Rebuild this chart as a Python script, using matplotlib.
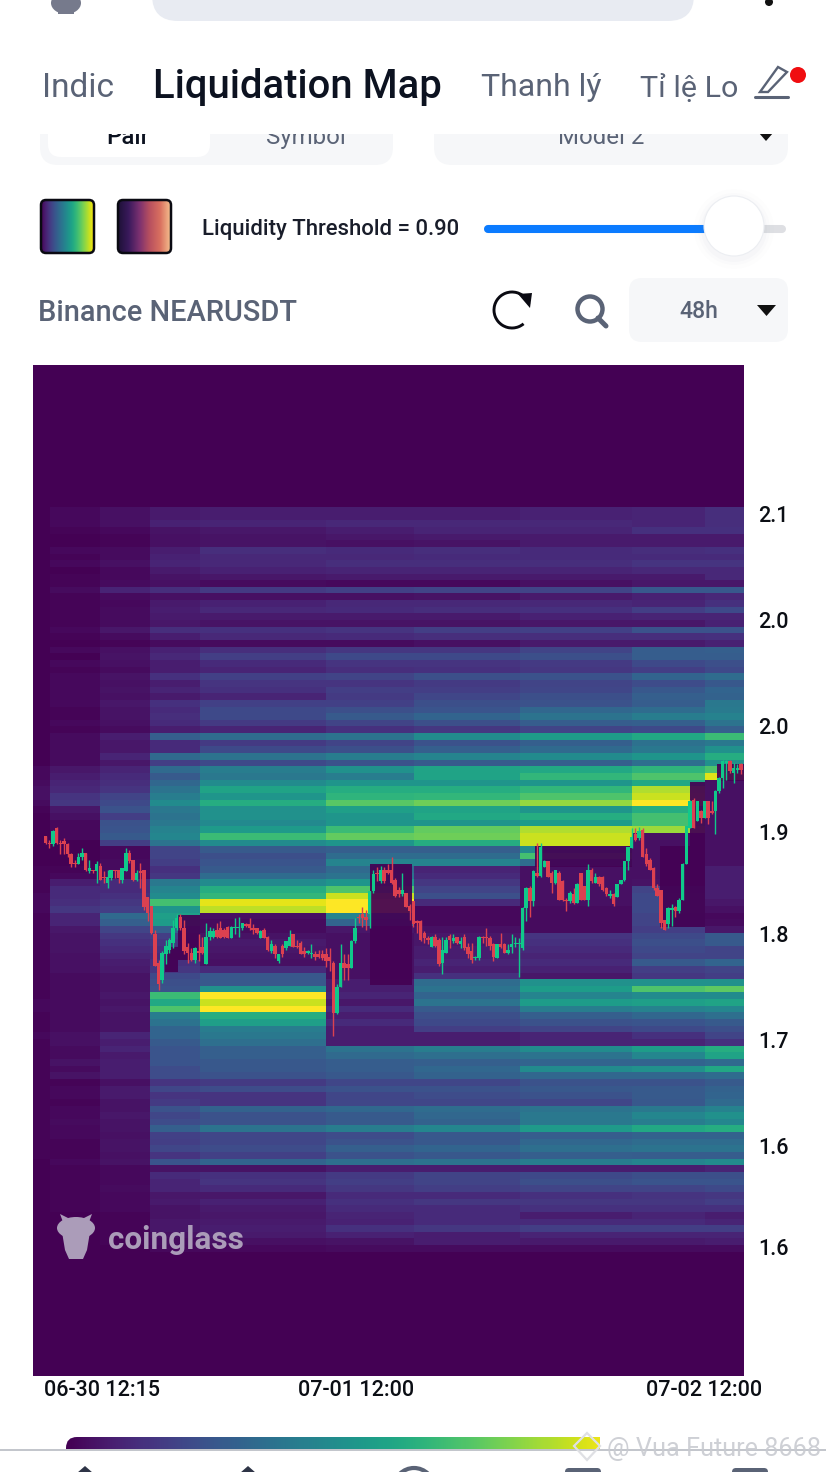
import numpy as np
import matplotlib
matplotlib.use("Agg")
import matplotlib.pyplot as plt
from matplotlib.patches import FancyBboxPatch, Circle, Polygon, Rectangle, Arc, Ellipse
from matplotlib.colors import Normalize, LinearSegmentedColormap

plt.rcParams['font.family'] = ['Roboto', 'DejaVu Sans']

# ---------------------- DATA ----------------------
y_tick_prices = [2.1001, 2.0259, 1.9517, 1.8775, 1.8061, 1.7319, 1.6577, 1.5870]
y_tick_labels = ['2.1', '2.0', '2.0', '1.9', '1.8', '1.7', '1.6', '1.6']
x_tick_candles = [15.5, 85.2, 180.9]
x_tick_labels = ['06-30 12:15', '07-01 12:00', '07-02 12:00']

# candle-number edges of the heat-map time columns
time_edges = [-3.49, 1.18, 14.9, 28.65, 42.4, 77.0, 101.2, 130.3, 161.1, 181.1, 191.84]
price_top = 2.105
price_bin = 0.004655

# liquidity (0-100) per price row (top to bottom) and time column
liquidity = [
 [0,2,4,7,8,8,8,9,10,13],[0,2,4,7,8,8,8,9,10,13],[0,2,4,9,10,11,11,11,10,13],[0,1,2,5,6,8,10,10,14,14],
 [0,0,1,4,5,6,7,7,7,7],[0,0,1,4,5,4,5,7,7,7],[0,2,3,8,13,12,13,12,13,14],[0,1,3,9,11,11,12,12,12,12],
 [0,2,4,10,11,13,13,13,15,15],[0,0,2,7,9,10,10,10,11,11],[0,1,2,5,6,7,7,7,7,11],[0,1,3,4,3,2,2,4,6,6],
 [0,3,10,13,17,19,20,20,27,27],[0,1,3,4,4,4,5,7,9,11],[0,1,2,7,9,11,11,11,10,14],[0,1,3,8,11,12,13,14,18,22],
 [0,1,3,7,7,7,7,9,10,10],[0,1,3,6,5,5,5,6,6,9],[0,2,6,13,14,15,18,19,25,25],[0,1,3,8,11,12,13,13,13,14],
 [0,0,1,3,3,3,4,7,7,9],[0,2,4,9,13,16,16,20,29,30],[0,0,5,11,18,22,22,24,29,29],[0,2,4,8,12,15,15,17,22,24],
 [0,1,3,8,10,13,14,16,18,22],[0,2,5,14,19,20,24,25,32,35],[0,2,4,8,15,15,17,20,23,27],[0,2,5,10,14,18,18,21,27,32],
 [0,2,4,7,10,17,21,24,30,31],[0,2,6,14,19,19,24,25,29,40],[0,1,5,12,22,24,26,33,35,41],[0,1,5,13,22,28,32,38,42,44],
 [0,2,4,12,17,20,24,29,30,38],[0,1,3,8,10,14,16,20,22,30],[0,3,8,30,35,38,48,55,60,68],[0,3,6,12,17,20,25,30,37,40],
 [0,3,6,12,22,24,30,34,40,50],[0,3,10,34,38,42,45,48,52,62],[0,3,6,18,22,25,28,30,36,50],
 [2,6,10,34,42,50,58,60,65,72],[2,8,12,28,40,42,58,66,72,95],[3,10,13,33,48,52,52,52,60,4],[4,11,15,38,58,62,62,66,88,4],
 [4,15,20,42,52,65,66,72,92,4],[3,16,22,48,62,74,78,84,100,4],[1,6,25,40,50,56,58,52,62,4],[0,4,18,38,50,52,60,62,70,4],
 [0,2,25,40,47,52,52,55,70,4],[0,2,26,44,54,68,76,88,85,4],[0,2,28,46,68,76,78,92,4,4],[0,0,18,38,48,52,62,92,4,4],
 [0,0,2,20,28,30,30,48,4,4],[0,0,2,20,24,35,35,70,4,4],[0,0,3,18,26,45,45,35,4,4],[1,1,3,14,28,34,10,4,4,8],
 [1,2,3,16,35,38,12,4,4,8],[1,8,12,40,48,52,16,4,5,8],[1,12,12,45,62,72,20,4,20,8],[2,12,14,48,66,92,24,4,22,8],
 [2,13,16,70,96,100,12,4,22,6],[2,16,18,52,90,100,2,3,22,4],[1,10,34,56,4,45,2,3,20,2],[1,10,30,55,3,32,2,3,20,3],
 [1,6,20,30,3,6,4,3,18,6],[1,5,16,18,5,4,6,15,22,28],[1,5,14,16,7,4,6,14,24,28],[1,5,12,14,6,4,8,12,22,20],
 [1,4,10,12,5,4,8,10,20,20],[1,4,8,14,4,4,10,12,28,32],[1,4,7,16,12,4,8,9,18,20],[1,3,5,22,27,4,14,6,16,18],
 [1,3,5,24,27,8,35,50,50,50],[1,3,5,25,50,8,38,55,72,75],[1,3,6,68,100,10,32,45,48,48],[2,3,5,60,92,6,38,55,56,58],
 [2,3,6,72,100,12,28,42,44,46],[1,3,5,42,62,8,24,30,33,36],[1,3,5,38,56,12,22,25,26,28],[1,3,5,32,42,8,18,20,22,24],
 [2,4,10,32,40,8,8,10,14,20],[1,4,8,28,36,8,8,10,10,14],[1,3,10,26,30,38,42,48,55,62],[1,3,7,26,30,34,36,38,46,58],
 [1,5,8,26,27,29,30,32,32,34],[1,3,8,23,27,29,33,48,50,60],[1,5,8,23,25,27,31,33,33,35],[1,1,4,15,17,21,21,25,25,28],
 [1,2,7,21,23,25,25,27,28,31],[1,2,7,15,15,21,23,25,28,32],[1,1,5,17,15,21,21,21,27,34],[1,2,5,25,31,33,35,38,40,44],
 [1,2,6,21,25,28,33,40,46,50],[1,3,5,23,25,28,31,40,42,46],[1,2,5,30,38,42,46,54,60,62],[1,2,4,19,21,23,27,29,31,31],
 [1,1,5,18,21,25,27,33,35,35],[1,1,5,21,23,30,32,36,38,38],[1,1,4,15,19,25,27,30,29,29],[0,2,5,26,32,36,38,42,45,48],
 [0,1,2,5,5,8,8,8,8,10],[0,1,2,12,14,17,20,22,24,24],[0,1,2,10,15,18,20,24,26,26],[0,1,3,10,12,16,18,20,20,22],
 [0,1,2,6,6,12,12,14,15,16],[0,1,2,7,9,14,16,16,16,18],[0,1,2,5,7,12,12,14,14,14],[0,0,1,5,6,10,12,8,10,8],
 [0,0,1,6,7,9,12,12,12,10],[0,0,1,6,8,14,16,18,18,18],[0,0,1,4,7,9,8,10,10,10],[0,0,1,3,4,5,8,7,7,8],
 [0,0,0,2,2,3,3,3,3,3],
]

# zones where liquidity was swept by price
cleared_start = [36.3, 32.8, 89.1, 134.4, 168.8, 177.0, 184.4]
cleared_end = [42.4, 36.3, 100.6, 161.1, 181.1, 181.1, 191.84]
cleared_top = [1.8194, 1.7970, 1.8551, 1.8677, 1.8677, 1.9125, 1.9251]
cleared_bottom = [1.7879, 1.7795, 1.7704, 1.8530, 1.8110, 1.8677, 1.9135]

# 15-minute candles
candle_ohlc = [
 (1.875,1.875,1.869,1.870),(1.870,1.872,1.866,1.869),(1.869,1.879,1.868,1.878),(1.880,1.881,1.869,1.870),
 (1.870,1.872,1.862,1.869),(1.871,1.873,1.862,1.869),(1.869,1.870,1.860,1.862),(1.862,1.863,1.853,1.855),
 (1.856,1.858,1.853,1.855),(1.855,1.863,1.855,1.860),(1.860,1.866,1.858,1.863),(1.863,1.863,1.850,1.851),
 (1.850,1.858,1.849,1.852),(1.851,1.851,1.849,1.850),(1.850,1.857,1.842,1.855),(1.854,1.856,1.844,1.844),
 (1.846,1.850,1.842,1.845),(1.842,1.851,1.838,1.846),(1.845,1.851,1.844,1.851),(1.851,1.851,1.845,1.850),
 (1.851,1.851,1.842,1.845),(1.844,1.852,1.842,1.852),(1.850,1.866,1.850,1.863),(1.863,1.865,1.856,1.857),
 (1.858,1.858,1.843,1.844),(1.844,1.851,1.843,1.849),(1.850,1.856,1.838,1.849),(1.851,1.851,1.823,1.825),
 (1.832,1.832,1.815,1.821),(1.826,1.826,1.806,1.807),(1.806,1.809,1.784,1.784),(1.786,1.788,1.767,1.771),
 (1.774,1.794,1.772,1.793),(1.792,1.802,1.785,1.798),(1.795,1.803,1.793,1.802),(1.800,1.816,1.796,1.810),
 (1.810,1.820,1.809,1.817),(1.818,1.820,1.809,1.810),(1.810,1.816,1.792,1.794),(1.797,1.800,1.786,1.793),
 (1.793,1.796,1.787,1.788),(1.788,1.797,1.786,1.796),(1.794,1.806,1.787,1.793),(1.797,1.804,1.792,1.793),
 (1.785,1.814,1.785,1.804),(1.804,1.811,1.802,1.808),(1.804,1.810,1.803,1.808),(1.809,1.814,1.803,1.804),
 (1.810,1.815,1.803,1.803),(1.809,1.810,1.803,1.804),(1.811,1.812,1.803,1.803),(1.803,1.812,1.803,1.811),
 (1.810,1.817,1.806,1.810),(1.810,1.818,1.804,1.810),(1.810,1.814,1.809,1.814),(1.813,1.814,1.811,1.812),
 (1.813,1.817,1.809,1.810),(1.810,1.813,1.806,1.809),(1.810,1.810,1.806,1.807),(1.803,1.809,1.803,1.808),
 (1.809,1.810,1.803,1.803),(1.804,1.805,1.794,1.795),(1.794,1.802,1.793,1.799),(1.798,1.799,1.789,1.792),
 (1.787,1.792,1.786,1.792),(1.798,1.799,1.790,1.792),(1.796,1.801,1.795,1.801),(1.798,1.809,1.798,1.804),
 (1.806,1.806,1.797,1.797),(1.798,1.802,1.796,1.797),(1.800,1.801,1.792,1.792),(1.794,1.797,1.790,1.792),
 (1.793,1.795,1.792,1.793),(1.792,1.799,1.789,1.793),(1.792,1.794,1.788,1.790),(1.792,1.795,1.789,1.790),
 (1.792,1.795,1.788,1.789),(1.792,1.796,1.783,1.787),(1.790,1.796,1.780,1.787),(1.786,1.787,1.735,1.751),
 (1.751,1.771,1.750,1.769),(1.769,1.799,1.769,1.786),(1.786,1.792,1.774,1.782),(1.785,1.792,1.774,1.782),
 (1.782,1.802,1.782,1.801),(1.801,1.817,1.800,1.810),(1.818,1.820,1.814,1.817),(1.820,1.825,1.811,1.817),
 (1.818,1.823,1.809,1.816),(1.820,1.836,1.810,1.836),(1.836,1.851,1.835,1.848),(1.849,1.853,1.843,1.848),
 (1.843,1.854,1.842,1.851),(1.851,1.853,1.842,1.843),(1.851,1.855,1.848,1.849),(1.851,1.860,1.841,1.842),
 (1.844,1.845,1.832,1.833),(1.837,1.839,1.832,1.834),(1.834,1.849,1.833,1.837),(1.835,1.835,1.825,1.825),
 (1.826,1.827,1.816,1.822),(1.829,1.829,1.811,1.813),(1.815,1.816,1.807,1.814),(1.815,1.816,1.801,1.802),
 (1.807,1.808,1.800,1.803),(1.803,1.805,1.799,1.802),(1.797,1.805,1.797,1.804),(1.804,1.806,1.797,1.798),
 (1.802,1.803,1.784,1.785),(1.786,1.804,1.778,1.795),(1.793,1.804,1.793,1.802),(1.805,1.806,1.796,1.802),
 (1.801,1.806,1.800,1.803),(1.804,1.804,1.799,1.800),(1.799,1.804,1.796,1.801),(1.804,1.806,1.795,1.796),
 (1.797,1.800,1.789,1.792),(1.794,1.800,1.786,1.788),(1.789,1.791,1.788,1.790),(1.789,1.805,1.788,1.804),
 (1.804,1.805,1.800,1.803),(1.804,1.810,1.798,1.803),(1.803,1.805,1.795,1.798),(1.799,1.800,1.787,1.790),
 (1.789,1.799,1.789,1.799),(1.799,1.807,1.796,1.797),(1.799,1.800,1.793,1.793),(1.793,1.799,1.792,1.795),
 (1.797,1.806,1.793,1.799),(1.799,1.804,1.797,1.800),(1.799,1.803,1.776,1.800),(1.796,1.825,1.795,1.824),
 (1.824,1.839,1.815,1.838),(1.838,1.840,1.818,1.829),(1.829,1.851,1.826,1.850),(1.849,1.870,1.846,1.847),
 (1.847,1.870,1.846,1.867),(1.853,1.858,1.853,1.857),(1.857,1.857,1.846,1.846),(1.849,1.850,1.835,1.842),
 (1.842,1.851,1.841,1.851),(1.849,1.850,1.830,1.830),(1.843,1.844,1.829,1.830),(1.830,1.831,1.822,1.829),
 (1.829,1.836,1.828,1.835),(1.834,1.838,1.827,1.828),(1.828,1.842,1.828,1.841),(1.849,1.849,1.830,1.830),
 (1.840,1.840,1.830,1.830),(1.830,1.855,1.826,1.851),(1.851,1.852,1.842,1.843),(1.842,1.849,1.842,1.846),
 (1.846,1.847,1.840,1.841),(1.846,1.847,1.836,1.837),(1.838,1.839,1.833,1.834),(1.833,1.837,1.831,1.834),
 (1.834,1.835,1.826,1.827),(1.832,1.841,1.832,1.841),(1.841,1.844,1.841,1.844),(1.844,1.857,1.843,1.857),
 (1.857,1.867,1.851,1.867),(1.866,1.880,1.866,1.874),(1.876,1.880,1.871,1.872),(1.873,1.881,1.872,1.878),
 (1.879,1.880,1.860,1.860),(1.862,1.866,1.854,1.855),(1.858,1.859,1.851,1.851),(1.852,1.853,1.837,1.838),
 (1.838,1.841,1.833,1.833),(1.837,1.837,1.810,1.814),(1.816,1.816,1.809,1.809),(1.813,1.825,1.810,1.824),
 (1.823,1.827,1.812,1.824),(1.825,1.826,1.818,1.822),(1.822,1.831,1.821,1.830),(1.830,1.856,1.830,1.855),
 (1.855,1.882,1.855,1.882),(1.880,1.900,1.880,1.899),(1.900,1.901,1.880,1.880),(1.885,1.899,1.885,1.899),
 (1.892,1.893,1.884,1.887),(1.887,1.899,1.887,1.899),(1.899,1.899,1.883,1.887),(1.892,1.899,1.890,1.891),
 (1.892,1.907,1.876,1.906),(1.906,1.916,1.905,1.915),(1.915,1.928,1.908,1.927),(1.926,1.928,1.914,1.927),
 (1.927,1.928,1.919,1.920),(1.919,1.926,1.912,1.922),(1.921,1.925,1.919,1.922),(1.925,1.926,1.918,1.921),
]

TITLE = 'Liquidation Map'
TABS = ['Indic', 'Thanh lý', 'Tỉ lệ Lo']
SYMBOL = 'Binance NEARUSDT'
THRESHOLD = 'Liquidity Threshold = 0.90'

# ---------------------- FIGURE ----------------------
W, H = 826, 1472
fig = plt.figure(figsize=(W / 100, H / 100), dpi=100, facecolor='white')
ax = fig.add_axes([33 / W, 1 - 1376 / H, (744 - 33) / W, (1376 - 365) / H])

PURPLE = '#440154'
GREEN = '#10c98a'
RED = '#dc4150'
ax.set_facecolor(PURPLE)
liq = np.array(liquidity, dtype=float)
price_edges = price_top - price_bin * np.arange(liq.shape[0] + 1)
ax.pcolormesh(time_edges, price_edges, liq, cmap='viridis',
              norm=Normalize(0, 100), shading='flat', linewidth=0, rasterized=True)
for s, e, t, b in zip(cleared_start, cleared_end, cleared_top, cleared_bottom):
    ax.fill_between([s, e], [b, b], [t, t], color=PURPLE, alpha=0.93, linewidth=0, zorder=2)

ohlc = np.array(candle_ohlc)
idx = np.arange(len(ohlc))
o, h, l, c = ohlc.T
cols = [GREEN if ci >= oi else RED for oi, ci in zip(o, c)]
ax.vlines(idx, l, h, colors=cols, linewidth=1.0, zorder=3)
ax.bar(idx, np.maximum(np.abs(c - o), 0.001), bottom=np.minimum(o, c), width=0.95,
       color=cols, linewidth=0, zorder=4)

ax.set_xlim(-3.489, 191.84)
ax.set_ylim(1.4967, 2.2044)
for sp in ax.spines.values():
    sp.set_visible(False)
ax.yaxis.tick_right()
ax.set_yticks(y_tick_prices, y_tick_labels, fontsize=15.5, fontweight='medium', color='#0b0e14')
ax.set_xticks(x_tick_candles, x_tick_labels, fontsize=15.5, fontweight='medium', color='#0b0e14')
ax.tick_params(axis='y', length=0, pad=10)
ax.tick_params(axis='x', length=0, pad=3)

# ---------------------- APP INTERFACE ----------------------
ui = fig.add_axes([0, 0, 1, 1], zorder=5)
ui.set_xlim(0, W)
ui.set_ylim(H, 0)
ui.axis('off')
ui.patch.set_alpha(0)
GRAY = '#5a6376'
PANEL = '#f6f7f9'


def rbox(x0, y0, x1, y1, r, fc, ec='none', lw=0, z=1):
    p = FancyBboxPatch((x0 + r, y0 + r), x1 - x0 - 2 * r, y1 - y0 - 2 * r,
                       boxstyle=f'round,pad={r},rounding_size={r}', fc=fc, ec=ec, lw=lw, zorder=z,
                       mutation_aspect=1)
    ui.add_patch(p)
    return p


def px(s):
    return s * 0.72


# top bar
rbox(152, -40, 694, 21, 26, '#e8ebf2')
ui.add_patch(Ellipse((66, 3), 30, 22, fc='#767a8c', ec='none'))
ui.add_patch(Rectangle((58, 6), 16, 8, fc='#767a8c', ec='none'))
ui.add_patch(Circle((769, 2), 4, fc='#111111', ec='none'))

# clipped selector row (hidden above y=134 by the tab strip)
rbox(40, 100, 393, 165, 18, PANEL, z=1)
rbox(48, 100, 210, 157, 13, 'white', z=1.2)
rbox(434, 100, 788, 165, 18, PANEL, z=1)
ui.text(128, 144, 'Pair', fontsize=px(24), color='#0c1220', ha='center', va='baseline', fontweight='medium', zorder=1.5)
ui.text(306, 144, 'Symbol', fontsize=px(24), color=GRAY, ha='center', va='baseline', zorder=1.5)
ui.text(601, 144, 'Model 2', fontsize=px(24), color=GRAY, ha='center', va='baseline', zorder=1.5)
ui.add_patch(Polygon([[759, 133], [773, 133], [766, 141]], closed=True, fc='#111111', ec='none', zorder=1.5))
ui.add_patch(Rectangle((0, 98), W, 36, fc='white', ec='none', zorder=2))

# tabs
ui.text(42, 88, TABS[0], fontsize=px(33.5), color=GRAY, va='center', ha='left', zorder=3)
ui.text(153, 87, TITLE, fontsize=px(40), color='#0c1220', va='center', ha='left', fontweight='medium', zorder=3)
ui.text(481, 88, TABS[1], fontsize=px(32), color=GRAY, va='center', ha='left', zorder=3)
ui.text(640, 88, TABS[2], fontsize=px(30.5), color=GRAY, va='center', ha='left', zorder=3)
ui.add_patch(Polygon([[760, 92], [778, 67], [787, 72], [768, 92]], closed=True, fc='none', ec=GRAY, lw=1.7, zorder=3))
ui.plot([755, 788], [97, 97], color=GRAY, lw=2.2, solid_capstyle='round', zorder=3)
ui.add_patch(Circle((798, 75), 8, fc='#f00d10', ec='none', zorder=4))

# colour swatches
grad = np.linspace(0, 1, 128)[None, :]
mag = LinearSegmentedColormap.from_list('mg', ['#1d1036', '#3a1a5c', '#7a3070', '#b8505f', '#d9705f', '#f6c18f'])
for x0, cmap in ((41, 'viridis'), (118, mag)):
    clip = rbox(x0, 200, x0 + 53, 253, 5, 'none', ec='#0a0a12', lw=1.8, z=3)
    im = ui.imshow(grad, extent=(x0, x0 + 53, 253, 200), aspect='auto', cmap=cmap, zorder=2)
    im.set_clip_path(clip)
ui.set_xlim(0, W)
ui.set_ylim(H, 0)

# threshold slider
ui.text(202, 230, THRESHOLD, fontsize=px(22.2), color='#191d2a', va='center', ha='left', fontweight='medium')
ui.plot([488, 782], [229, 229], color='#dedfe3', lw=5.8, solid_capstyle='round', zorder=1)
ui.plot([488, 734], [229, 229], color='#0b7bff', lw=5.8, solid_capstyle='round', zorder=2)
for r, a in ((40, 0.012), (36, 0.018), (33, 0.03)):
    ui.add_patch(Circle((734, 229), r, fc='#8890a0', ec='none', alpha=a, zorder=3))
ui.add_patch(Circle((734, 226), 30, fc='white', ec='#eceef2', lw=0.8, zorder=4))

# symbol row
ui.text(38, 313, SYMBOL, fontsize=px(29), color=GRAY, va='center', ha='left', fontweight='medium')
ui.add_patch(Arc((512, 310), 36, 36, theta1=-310, theta2=-20, ec='#0a0a12', lw=2.1, zorder=3))
ui.add_patch(Polygon([[518, 294], [532, 293], [530, 308]], closed=True, fc='#0a0a12', ec='none', zorder=3))
ui.add_patch(Circle((590, 309), 12.5, fc='none', ec=GRAY, lw=3.2))
ui.plot([598, 606], [318, 326], color=GRAY, lw=3.6, solid_capstyle='round')
rbox(629, 278, 788, 342, 13, PANEL)
ui.text(699, 312, '48h', fontsize=px(23), color=GRAY, va='center', ha='center', fontweight='medium')
ui.add_patch(Polygon([[757, 305], [776, 305], [766.5, 316]], closed=True, fc='#111111', ec='none', zorder=3))

# coinglass watermark
MARK = '#ab9cb9'
ui.add_patch(Ellipse((76, 1228), 38, 22, fc=MARK, ec='none', zorder=6))
ui.add_patch(Polygon([[62, 1232], [90, 1232], [87, 1250], [83, 1259], [69, 1259], [65, 1250]], closed=True,
                     fc=MARK, ec='none', zorder=6))
ui.add_patch(Polygon([[63, 1222], [60, 1214], [70, 1219]], closed=True, fc=MARK, ec='none', zorder=6))
ui.add_patch(Polygon([[89, 1222], [92, 1214], [82, 1219]], closed=True, fc=MARK, ec='none', zorder=6))
ui.text(108, 1240, 'coinglass', fontsize=px(31.5), color=MARK, va='center', ha='left', fontweight='bold', zorder=6)

# legend bar and bottom navigation
cbclip = rbox(66, 1437, 640, 1470, 11, 'none', z=1)
cb = ui.imshow(np.linspace(0, 0.97, 256)[None, :], extent=(66, 600, 1449.5, 1436.5), aspect='auto',
               cmap='viridis', vmin=0, vmax=1, zorder=2)
cb.set_clip_path(cbclip)
ui.set_xlim(0, W)
ui.set_ylim(H, 0)
ui.plot([0, W], [1449.5, 1449.5], color='#b8bbc2', lw=1.2, zorder=3)
for xc, shape in ((85, 'tri'), (248, 'tri'), (414, 'arc'), (583, 'box'), (750, 'box')):
    if shape == 'tri':
        ui.add_patch(Polygon([[xc - 8, 1473], [xc, 1466], [xc + 8, 1473]], closed=True, fc='#2e3446', ec='none'))
    elif shape == 'arc':
        ui.add_patch(Arc((xc, 1488), 40, 40, theta1=180, theta2=360, ec=GRAY, lw=3))
    else:
        rbox(xc - 18, 1468, xc + 18, 1490, 4, GRAY)

# reposter's stamp
ui.add_patch(Polygon([[587, 1433], [600, 1446], [587, 1460], [574, 1446]], closed=True,
                     fc='none', ec='#dfe0e4', lw=1.6, zorder=6))
ui.text(607, 1449, '@ Vua Future 8668', fontsize=px(25.2), color='#c9cbd1', alpha=0.9, va='center', ha='left', zorder=6)

fig.savefig('out.png', dpi=100)
